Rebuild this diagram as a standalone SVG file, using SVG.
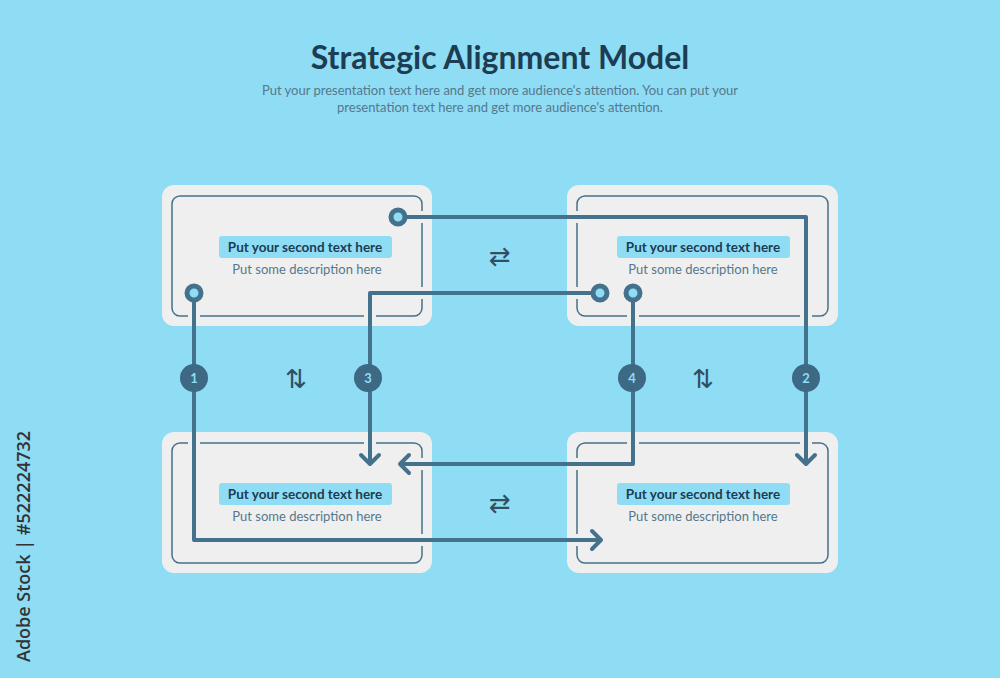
<svg xmlns="http://www.w3.org/2000/svg" width="1000" height="678" viewBox="0 0 1000 678">
<style>
.card{fill:#efefef}
.inner{fill:none;stroke:#45708a;stroke-width:1.5}
.hl{fill:#8fdcf5}
.t{font-family:"Lato","Liberation Sans",sans-serif;font-size:13.5px;font-weight:bold;fill:#1c3d52;text-anchor:middle}
.d{font-family:"Lato","Liberation Sans",sans-serif;font-size:13px;fill:#55788c;text-anchor:middle}
.gap{fill:none;stroke:#efefef;stroke-width:12}
.ln{fill:none;stroke:#44728c;stroke-width:4;stroke-linejoin:round}
.ah{fill:none;stroke:#44728c;stroke-width:4;stroke-linecap:round;stroke-linejoin:round}
.dot{fill:#8fdcf5;stroke:#44728c;stroke-width:5}
.b{fill:#3d6985}
.bt{font-family:"Lato","Liberation Sans",sans-serif;font-size:13px;font-weight:bold;fill:#8fdcf5;text-anchor:middle}
.sym{font-family:"DejaVu Sans",sans-serif;font-size:26px;fill:#2f4f63;text-anchor:middle}
</style>
<defs><clipPath id="cc"><rect x="162" y="185" width="270" height="141"/><rect x="567" y="185" width="271" height="141"/><rect x="162" y="432" width="270" height="141"/><rect x="567" y="432" width="271" height="141"/></clipPath></defs>
<rect width="1000" height="678" fill="#8fdcf5"/>
<text x="500" y="69" font-family="Lato,'Liberation Sans',sans-serif" font-size="32" font-weight="bold" fill="#1c3d52" text-anchor="middle">Strategic Alignment Model</text>
<text x="500" y="95" font-family="Lato,'Liberation Sans',sans-serif" font-size="13" fill="#55788c" text-anchor="middle">Put your presentation text here and get more audience's attention. You can put your</text>
<text x="500" y="112" font-family="Lato,'Liberation Sans',sans-serif" font-size="13" fill="#55788c" text-anchor="middle">presentation text here and get more audience's attention.</text>
<text transform="translate(30,662) rotate(-90)" font-family="'Open Sans','Liberation Sans',sans-serif" font-size="18" font-weight="600" fill="#333">Adobe Stock | #522224732</text>
<g id="n1"><rect class="card" x="162" y="185" width="270" height="141" rx="12"/><rect class="inner" x="172" y="196" width="250" height="120" rx="8"/><rect class="hl" x="219" y="236" width="173" height="22" rx="3"/><text class="t" x="305" y="252">Put your second text here</text><text class="d" x="307" y="274">Put some description here</text></g>
<g id="n2"><rect class="card" x="567" y="185" width="271" height="141" rx="12"/><rect class="inner" x="577" y="196" width="251" height="120" rx="8"/><rect class="hl" x="617" y="236" width="173" height="22" rx="3"/><text class="t" x="703" y="252">Put your second text here</text><text class="d" x="703" y="274">Put some description here</text></g>
<g id="n3"><rect class="card" x="162" y="432" width="270" height="141" rx="12"/><rect class="inner" x="172" y="443" width="250" height="120" rx="8"/><rect class="hl" x="219" y="483" width="173" height="22" rx="3"/><text class="t" x="305" y="499">Put your second text here</text><text class="d" x="307" y="521">Put some description here</text></g>
<g id="n4"><rect class="card" x="567" y="432" width="271" height="141" rx="12"/><rect class="inner" x="577" y="443" width="251" height="120" rx="8"/><rect class="hl" x="617" y="483" width="173" height="22" rx="3"/><text class="t" x="703" y="499">Put your second text here</text><text class="d" x="703" y="521">Put some description here</text></g>
<g id="connectors">
<path class="gap" clip-path="url(#cc)" d="M194,300 V540 H595 M398,217 H806 V462 M600,293 H370 V462 M633,300 V464 H405"/>
<path class="ln" d="M194,293 V540 H601"/>
<path class="ah" d="M592,531 L601,540 L592,549"/>
<path class="ln" d="M398,217 H806 V464"/>
<path class="ah" d="M797,455 L806,464 L815,455"/>
<path class="ln" d="M600,293 H370 V464"/>
<path class="ah" d="M361,455 L370,464 L379,455"/>
<path class="ln" d="M633,293 V464 H400"/>
<path class="ah" d="M409,455 L400,464 L409,473"/>
<circle class="dot" cx="194" cy="293" r="7"/><circle class="dot" cx="398" cy="217" r="7"/><circle class="dot" cx="600" cy="293" r="7"/><circle class="dot" cx="633" cy="293" r="7"/>
<circle class="b" cx="194" cy="378" r="14"/><text class="bt" x="194" y="383">1</text>
<circle class="b" cx="806" cy="378" r="14"/><text class="bt" x="806" y="383">2</text>
<circle class="b" cx="368" cy="378" r="14"/><text class="bt" x="368" y="383">3</text>
<circle class="b" cx="632" cy="378" r="14"/><text class="bt" x="632" y="383">4</text>
</g>
<text class="sym" x="500" y="265">⇄</text>
<text class="sym" x="500" y="512">⇄</text>
<text class="sym" x="296" y="388">⇅</text>
<text class="sym" x="703" y="388">⇅</text>
</svg>
